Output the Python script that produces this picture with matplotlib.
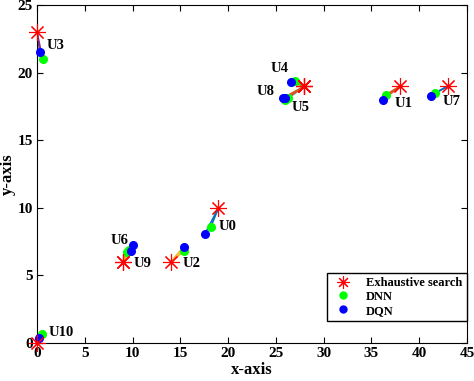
import numpy as np
import matplotlib
matplotlib.use('Agg')
import matplotlib.pyplot as plt
from matplotlib.lines import Line2D

plt.rcParams['font.family'] = ['Liberation Serif', 'DejaVu Serif']
plt.rcParams['font.weight'] = 'bold'

# user positions: exhaustive search, DNN and DQN results
users = ['U0', 'U1', 'U2', 'U3', 'U4', 'U5', 'U6', 'U7', 'U8', 'U9', 'U10']
es_x = [19, 38, 14, 0, 28, 28, 9, 43, 28, 9, 0]
es_y = [10, 19, 6, 23, 19, 19, 6, 19, 19, 6, 0]
dnn_x = [18.2, 36.5, 15.4, 0.6, 27.0, 26.3, 9.6, 41.7, 26.0, 9.4, 0.55]
dnn_y = [8.6, 18.35, 6.8, 21.0, 19.35, 18.1, 6.9, 18.5, 18.0, 6.7, 0.65]
dqn_x = [17.6, 36.25, 15.35, 0.3, 26.55, 26.0, 10.1, 41.2, 25.7, 9.8, 0.25]
dqn_y = [8.1, 18.0, 7.1, 21.55, 19.3, 18.15, 7.25, 18.3, 18.1, 6.8, 0.4]
# label anchor for each user name
lab_x = [19.05, 37.4, 15.2, 1.0, 24.5, 26.7, 7.75, 42.5, 23.0, 10.15, 1.25]
lab_y = [8.6, 17.75, 5.9, 22.0, 20.3, 17.45, 7.6, 17.9, 18.6, 5.9, 0.75]

# matlab default color order
mcolors = ['#0072BD', '#D95319', '#EDB120', '#7E2F8E', '#77AC30', '#4DBEEE', '#A2142F']

fig = plt.figure(figsize=(4.74, 3.81), dpi=100)
ax = fig.add_axes([0.078, 0.0997, 0.907, 0.887])

star = (8, 2, 0)
for i in range(len(users)):
    c = mcolors[i % len(mcolors)]
    ax.plot([es_x[i], dnn_x[i]], [es_y[i], dnn_y[i]], color=c, lw=1.2, zorder=2)
    ax.plot([es_x[i], dqn_x[i]], [es_y[i], dqn_y[i]], color=c, lw=1.2, zorder=2)

ax.plot(dnn_x, dnn_y, 'o', color='#00ff00', ms=5.5, ls='none', zorder=3, clip_on=False)
ax.plot(dqn_x, dqn_y, 'o', color='#0000ff', ms=5.5, ls='none', zorder=4, clip_on=False)
ax.plot(es_x, es_y, marker=star, color='#ff0000', ms=12, mew=0.8, ls='none', zorder=5, clip_on=False)

for i in range(len(users)):
    ax.text(lab_x[i], lab_y[i], users[i], ha='left', va='center', fontsize=10.5, fontweight='bold')

ax.set_xlim(0, 45)
ax.set_ylim(0, 25)
ax.set_xticks(np.arange(0, 46, 5))
ax.set_yticks(np.arange(0, 26, 5))
ax.tick_params(direction='in', top=True, right=True, labelsize=11, length=4, pad=3)
for lbl in ax.get_xticklabels() + ax.get_yticklabels():
    lbl.set_fontweight('bold')
ax.set_xlabel('x-axis', fontsize=12, fontweight='bold', labelpad=1)
ax.set_ylabel('y-axis', fontsize=12, fontweight='bold', labelpad=1)

handles = [
    Line2D([], [], marker=star, color='#ff0000', ms=9, mew=0.8, ls='none'),
    Line2D([], [], marker='o', color='#00ff00', ms=5, ls='none'),
    Line2D([], [], marker='o', color='#0000ff', ms=5, ls='none'),
]
leg = ax.legend(handles, ['Exhaustive search', 'DNN', 'DQN'], loc='lower right',
                bbox_to_anchor=(1.0, 0.065), borderaxespad=0, fancybox=False,
                edgecolor='black', framealpha=1, prop={'size': 9, 'weight': 'bold'},
                handletextpad=1.0, labelspacing=0.15, borderpad=0.35, handlelength=1.8)
leg.get_frame().set_linewidth(1.0)

fig.savefig('out.png', dpi=100)
